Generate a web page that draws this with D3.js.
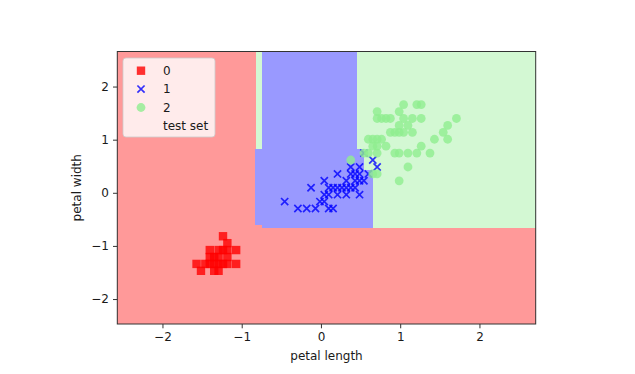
<!DOCTYPE html>
<html>
<head>
<meta charset="utf-8">
<script src="https://cdn.jsdelivr.net/npm/d3@7"></script>
<style>
  body { margin: 0; background: #fff; }
  svg text { font-family: "DejaVu Sans", sans-serif; fill: #1a1a1a; }
</style>
</head>
<body>
<div id="chart"></div>
<script>
// standardized petal length / petal width
const setosaX = [-1.347, -1.403, -1.292, -1.181, -1.347, -1.292, -1.236, -1.347, -1.514, -1.459, -1.292,
  -1.403, -1.181, -1.292, -1.181, -1.570, -1.181, -1.070, -1.236, -1.403, -1.236, -1.070];
const setosaY = [-1.339, -1.339, -1.339, -1.078, -1.209, -1.469, -1.339, -1.469, -1.469, -1.339, -1.078,
  -1.078, -1.209, -1.209, -1.339, -1.339, -0.948, -1.339, -1.078, -1.209, -0.818, -1.078];

const versiX = [0.487, 0.376, 0.598, 0.098, 0.431, 0.376, 0.487, -0.291, 0.431, 0.042, -0.180, 0.209,
  0.098, -0.125, 0.320, 0.153, 0.042, 0.542, 0.487, 0.265, 0.542, 0.654, -0.013, -0.069, 0.042, 0.709,
  0.376, 0.487, 0.320, 0.153, 0.320, 0.431, 0.098, 0.209, 0.209, -0.458];
const versiY = [0.226, 0.356, 0.356, 0.095, 0.356, 0.095, 0.486, -0.296, 0.095, 0.226, -0.296, 0.356,
  -0.296, 0.095, 0.226, -0.296, -0.166, 0.747, -0.035, 0.095, 0.226, 0.617, -0.166, -0.296, -0.035, 0.486,
  0.486, 0.356, 0.095, 0.095, -0.035, 0.226, -0.035, 0.095, -0.035, -0.166];

const virgX = [1.210, 0.709, 1.154, 0.987, 1.098, 1.543, 0.376, 1.376, 1.098, 1.265, 0.709, 0.821, 0.932,
  0.654, 0.709, 0.821, 0.932, 1.599, 1.710, 0.654, 1.043, 0.598, 1.599, 0.598, 1.043, 1.210, 0.542, 0.987,
  1.098, 1.265, 1.432, 0.987, 0.709, 0.987, 1.265, 0.987, 0.876, 0.709, 1.154, 1.043, 0.765, 0.654, 0.765,
  0.876, 0.709];
const virgY = [1.660, 0.877, 1.138, 0.747, 1.269, 1.138, 0.617, 0.747, 0.747, 1.660, 1.008, 0.877, 1.138,
  1.008, 1.529, 1.399, 0.747, 1.269, 1.399, 0.356, 1.399, 1.008, 1.008, 0.747, 1.138, 0.747, 0.747, 1.138,
  0.486, 0.877, 1.008, 1.269, 0.356, 0.226, 1.399, 1.529, 1.138, 1.399, 1.399, 1.660, 1.399, 0.877, 1.008,
  1.399, 0.747];

// decision regions (class, x0, x1, y0, y1) in data units
const regionClass = [0, 1, 1, 1, 2, 2, 2, 2];
const regionX0 = [-2.57, -0.832, -0.744, -0.744, -0.82, 0.454, 0.54, 0.66];
const regionX1 = [2.71, 0.66, 0.66, 0.454, -0.744, 2.71, 2.71, 2.71];
const regionY0 = [-2.47, -0.608, -0.67, 0.83, 0.83, 0.83, 0.43, -0.67];
const regionY1 = [2.66, 0.83, -0.608, 2.66, 2.66, 2.66, 0.83, 0.43];

const xTicks = [-2, -1, 0, 1, 2];
const yTicks = [-2, -1, 0, 1, 2];
const legendLabels = ["0", "1", "2", "test set"];

const width = 635, height = 374;
const margin = { top: 51.5, right: 99.3, bottom: 50, left: 117.3 };
const regionColors = ["#ff9999", "#9999ff", "#d3f8d3"];

const svg = d3.select("#chart").append("svg")
  .attr("width", width)
  .attr("height", height);

const x = d3.scaleLinear().domain([-2.57, 2.71]).range([margin.left, width - margin.right]);
const y = d3.scaleLinear().domain([-2.47, 2.66]).range([height - margin.bottom, margin.top]);

// regions
svg.append("g")
  .attr("shape-rendering", "crispEdges")
  .selectAll("rect")
  .data(regionClass)
  .enter()
  .append("rect")
  .attr("x", (d, i) => x(regionX0[i]))
  .attr("y", (d, i) => y(regionY1[i]))
  .attr("width", (d, i) => x(regionX1[i]) - x(regionX0[i]))
  .attr("height", (d, i) => y(regionY0[i]) - y(regionY1[i]))
  .attr("fill", (d) => regionColors[d]);

const squarePath = (s) => `M${-s},${-s}H${s}V${s}H${-s}Z`;
const crossPath = (s) => `M${-s},${-s}L${s},${s}M${-s},${s}L${s},${-s}`;

const drawSquare = (g, px, py) =>
  g.append("path").attr("transform", `translate(${px},${py})`)
    .attr("d", squarePath(4.2)).attr("fill", "red").attr("fill-opacity", 0.8);
const drawCross = (g, px, py) =>
  g.append("path").attr("transform", `translate(${px},${py})`)
    .attr("d", crossPath(3.6)).attr("fill", "none")
    .attr("stroke", "blue").attr("stroke-width", 1.7).attr("stroke-opacity", 0.8);
const drawCircle = (g, px, py) =>
  g.append("circle").attr("cx", px).attr("cy", py).attr("r", 4.4)
    .attr("fill", "lightgreen").attr("fill-opacity", 0.8);

const pts = svg.append("g");
setosaX.forEach((v, i) => drawSquare(pts, x(v), y(setosaY[i])));
versiX.forEach((v, i) => drawCross(pts, x(v), y(versiY[i])));
virgX.forEach((v, i) => drawCircle(pts, x(v), y(virgY[i])));

// frame
svg.append("rect")
  .attr("x", margin.left).attr("y", margin.top)
  .attr("width", width - margin.left - margin.right)
  .attr("height", height - margin.top - margin.bottom)
  .attr("fill", "none").attr("stroke", "#333").attr("stroke-width", 1);

// axes
const xAxis = svg.append("g")
  .attr("transform", `translate(0,${height - margin.bottom})`)
  .call(d3.axisBottom(x).tickValues(xTicks).tickSize(4.3).tickPadding(4).tickFormat(d3.format("d")));
const yAxis = svg.append("g")
  .attr("transform", `translate(${margin.left},0)`)
  .call(d3.axisLeft(y).tickValues(yTicks).tickSize(4.3).tickPadding(4).tickFormat(d3.format("d")));
[xAxis, yAxis].forEach((a) => {
  a.select(".domain").remove();
  a.selectAll("line").attr("stroke", "#333");
  a.selectAll("text").attr("font-size", "12px").attr("font-family", "DejaVu Sans").attr("fill", "#1a1a1a");
});

svg.append("text")
  .attr("x", (margin.left + width - margin.right) / 2)
  .attr("y", 360)
  .attr("text-anchor", "middle")
  .attr("font-size", "12px")
  .text("petal length");

svg.append("text")
  .attr("transform", `translate(81,${(margin.top + height - margin.bottom) / 2}) rotate(-90)`)
  .attr("text-anchor", "middle")
  .attr("font-size", "12px")
  .text("petal width");

// legend
const legend = svg.append("g");
legend.append("rect")
  .attr("x", 123).attr("y", 58).attr("width", 92).attr("height", 79).attr("rx", 3)
  .attr("fill", "white").attr("fill-opacity", 0.8)
  .attr("stroke", "#cccccc").attr("stroke-opacity", 0.8);
legendLabels.forEach((lab, i) => {
  const ly = 70.7 + i * 18.4;
  if (i === 0) drawSquare(legend, 141, ly);
  if (i === 1) drawCross(legend, 141, ly);
  if (i === 2) drawCircle(legend, 141, ly);
  legend.append("text")
    .attr("x", 163).attr("y", ly)
    .attr("dy", "0.35em")
    .attr("font-size", "12px")
    .text(lab);
});
</script>
</body>
</html>
